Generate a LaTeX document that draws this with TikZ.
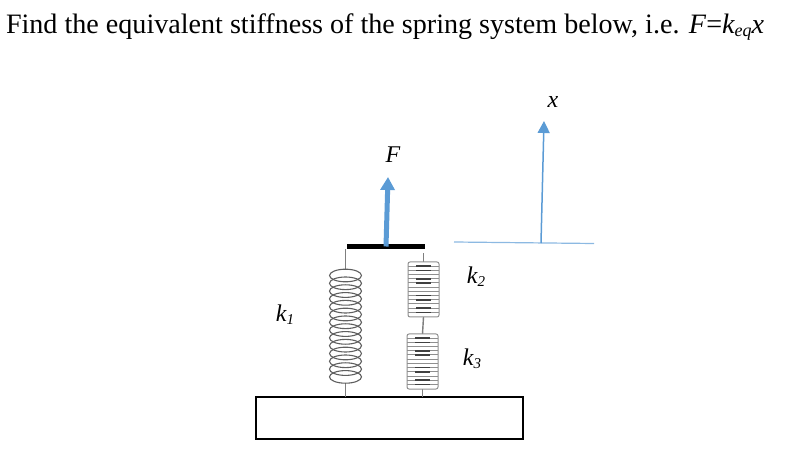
\documentclass[tikz,border=0pt]{standalone}
\usepackage{fontspec}
\setmainfont{Liberation Serif}
\usetikzlibrary{arrows.meta}
\definecolor{arrowblue}{RGB}{91,155,213}
\definecolor{coilgray}{RGB}{95,95,95}
\begin{document}
\begin{tikzpicture}[
            x=1pt, y=-1pt,
            every node/.style = {inner sep=0pt, outer sep=0pt},
            label text/.style = {font=\fontsize{24}{26}\selectfont\itshape},
            spring box/.style = {minimum width=31pt, minimum height=55pt},
            lead/.style = {draw=coilgray!80, line width=1.4pt},
            wide coil/.style = {draw=coilgray, line width=1.1pt},
            tight coil/.style = {draw=coilgray!70, line width=1pt},
            inner coil/.style = {draw=black!75, line width=1.6pt},
            force arrow/.style = {draw=arrowblue, line width=5pt, -{Triangle[length=13pt,width=14pt]}},
            motion arrow/.style = {draw=arrowblue, line width=1.5pt, -{Triangle[length=12pt,width=12pt]}}
          ]
          \useasboundingbox (0,0) rectangle (798,462);
          \node[anchor=base west, font=\fontsize{28.1}{30}\selectfont] (title) at (6,33.5)
            {Find the equivalent stiffness of the spring system below, i.e. \textit{F}=\textit{k\raisebox{-3pt}{\fontsize{18}{20}\selectfont eq}x}};
          % plate and base
          \node[fill=black, minimum width=78pt, minimum height=5pt] (plate) at (386,246.5) {};
          \node[draw=black, line width=2pt, minimum width=267pt, minimum height=42pt] (base) at (389,417.5) {};
          % spring boxes
          \node[spring box, minimum width=33pt, minimum height=114pt] (kone) at (345.5,326) {};
          \node[spring box] (ktwo) at (423.5,289.5) {};
          \node[spring box] (kthree) at (422.5,361.5) {};
          % leads
          \draw[lead] (kone.north) -- (kone.north |- plate.south);
          \draw[lead] (kone.south) -- (kone.south |- base.north);
          \draw[lead] (ktwo.north) -- +(0,-9);
          \draw[lead] (ktwo.south) -- (kthree.north);
          \draw[lead] (kthree.south) -- (kthree.south |- base.north);
          % coils
          \foreach \i in {0,...,13}
            \draw[wide coil] (345.5,{275.5+\i*7.8}) ellipse [x radius=16, y radius=6.3];
          \foreach \s in {ktwo,kthree} {
            \draw[tight coil, rounded corners=2pt] (\s.north west) rectangle (\s.south east);
            \foreach \i in {1,...,12}
              \draw[tight coil] ([yshift=-\i*4.2pt]\s.north west) -- ([yshift=-\i*4.2pt]\s.north east);
            \foreach \i in {1,2,4,5,8,9,11,12}
              \draw[inner coil] ([xshift=8pt,yshift=-\i*4.2pt]\s.north west) -- ([xshift=-8pt,yshift=-\i*4.2pt]\s.north east);
          }
          % arrows
          \coordinate (ftip) at (388,177);
          \coordinate (xfoot) at (541,243);
          \coordinate (xtip) at (544,121);
          \coordinate (xleft) at (454,242);
          \coordinate (xright) at (594,243.5);
          \draw[force arrow] (plate.center) -- (ftip);
          \draw[arrowblue!70, line width=1.2pt] (xleft) -- (xright);
          \draw[motion arrow] (xfoot) -- (xtip);
          % labels
          \node[label text] (flabel) at (393,155) {F};
          \node[label text] (xlabel) at (553,102) {x};
          \node[label text] (konelabel) at (285,315) {k\raisebox{-3pt}{\fontsize{15}{16}\selectfont 1}};
          \node[label text] (ktwolabel) at (476,277) {k\raisebox{-3pt}{\fontsize{15}{16}\selectfont 2}};
          \node[label text] (kthreelabel) at (472,359) {k\raisebox{-3pt}{\fontsize{15}{16}\selectfont 3}};
        \end{tikzpicture}
\end{document}
